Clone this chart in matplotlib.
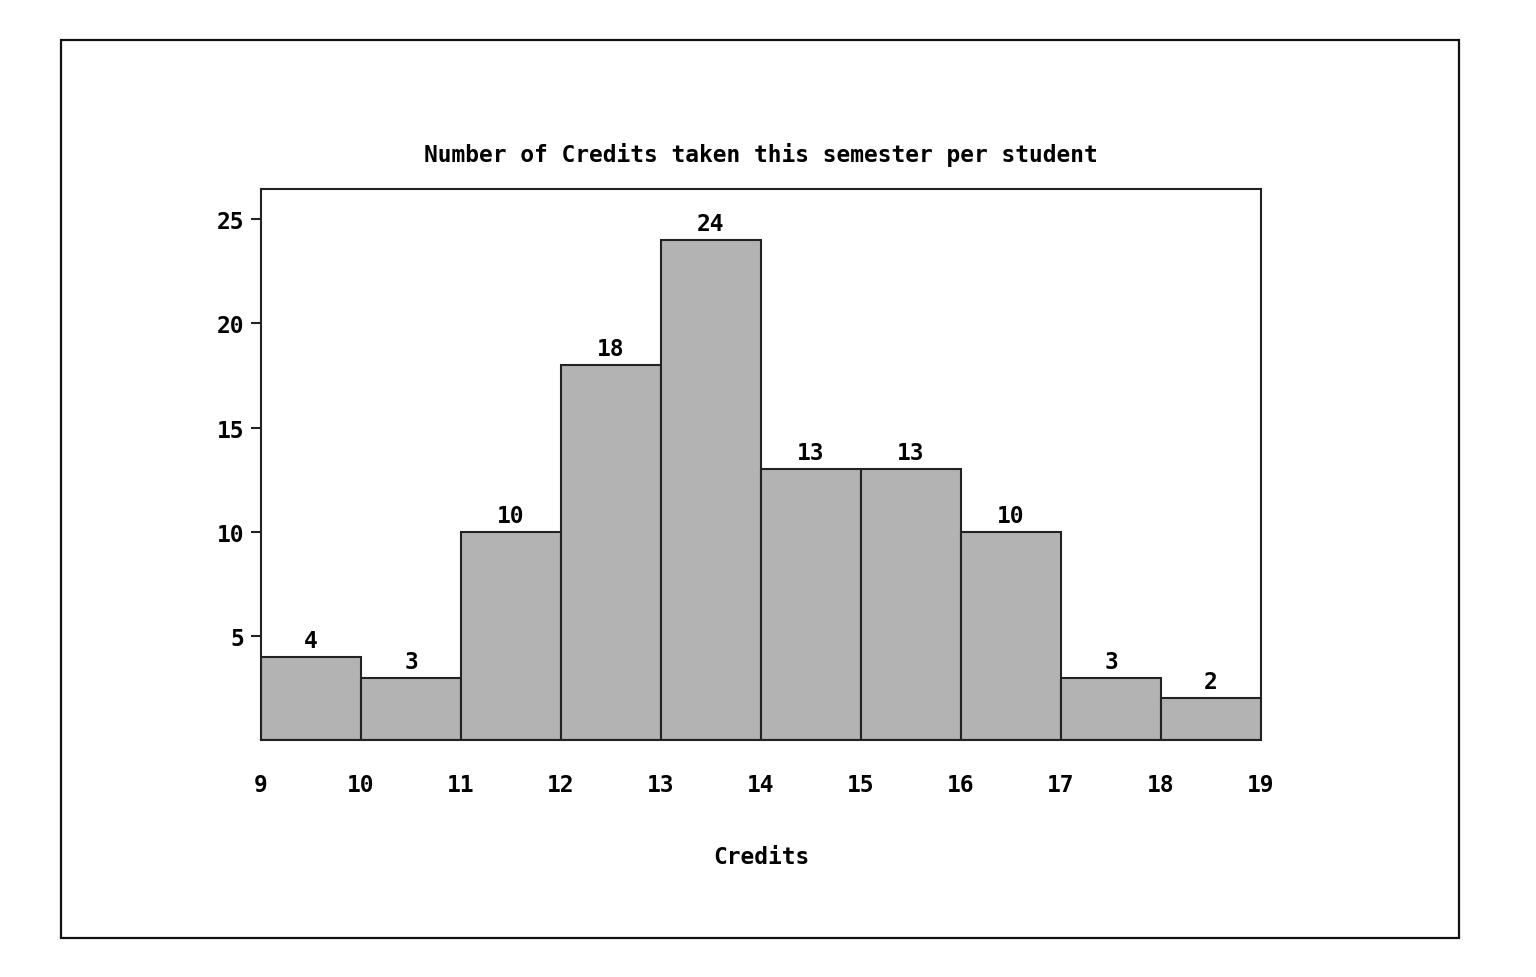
import numpy as np
import matplotlib.pyplot as plt
from matplotlib.patches import Rectangle

bin_edges = [9, 10, 11, 12, 13, 14, 15, 16, 17, 18, 19]
counts = [4, 3, 10, 18, 24, 13, 13, 10, 3, 2]
yticks = [5, 10, 15, 20, 25]
title = "Number of Credits taken this semester per student"
xlabel = "Credits"

plt.rcParams['font.family'] = ['DejaVu Sans Mono', 'Liberation Mono']
plt.rcParams['font.weight'] = 'bold'
fs = 16.5

fig = plt.figure(figsize=(15.36, 9.78), dpi=100)

# outer frame
W, H = 1536, 978
frame = Rectangle((61 / W, 1 - 939 / H), (1459 - 61) / W, (939 - 41) / H,
                  transform=fig.transFigure, fill=False, edgecolor='#111111', linewidth=1.6)
fig.patches.append(frame)

ax = fig.add_axes([261 / W, 1 - 741 / H, 1000 / W, 551 / H])
edges = np.array(bin_edges)
ax.bar(edges[:-1], counts, width=np.diff(edges), align='edge',
       color='#b3b3b3', edgecolor='#222222', linewidth=1.5)

for x0, x1, c in zip(edges[:-1], edges[1:], counts):
    ax.annotate(str(c), ((x0 + x1) / 2, c), xytext=(0, 3.5), textcoords='offset points',
                ha='center', va='bottom', fontsize=fs, fontweight='bold')

ax.set_xlim(9, 19)
ax.set_ylim(0, 26.45)
ax.set_xticks(bin_edges)
ax.set_xticklabels([str(e) for e in bin_edges], fontsize=fs, fontweight='bold')
ax.set_yticks(yticks)
ax.set_yticklabels([str(t) for t in yticks], fontsize=fs, fontweight='bold')
ax.tick_params(axis='x', length=0, pad=24)
ax.tick_params(axis='y', length=7, width=1.5, pad=5, color='#222222')
for s in ax.spines.values():
    s.set_linewidth(1.5)
    s.set_color('#222222')

ax.set_title(title, fontsize=fs, fontweight='bold', pad=20)
ax.set_xlabel(xlabel, fontsize=fs, fontweight='bold', labelpad=35)

fig.savefig('out.png', dpi=100)
